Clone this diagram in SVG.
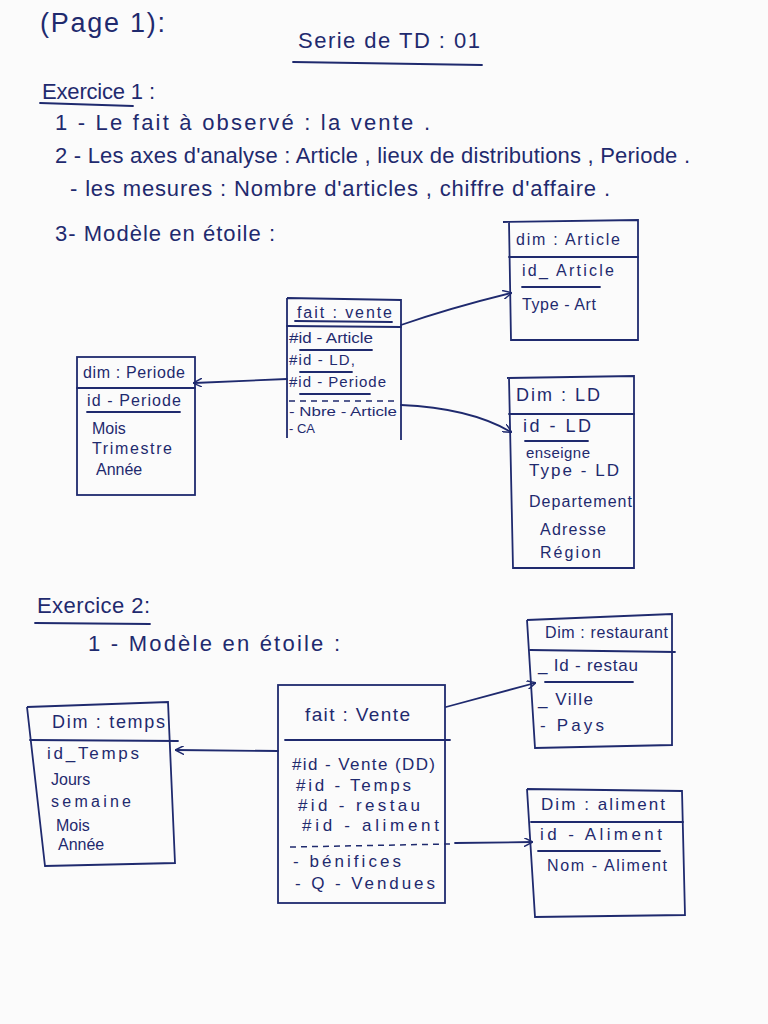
<svg xmlns="http://www.w3.org/2000/svg" width="768" height="1024" viewBox="0 0 768 1024">
<defs>
<style>
.t{font-family:"Liberation Sans","DejaVu Sans",sans-serif;fill:#1f2a6e;}
.h{font-size:22px;}
.b{font-size:16px;}
.s{font-size:15px;}
.ln{stroke:#1f2a6e;stroke-width:1.8;fill:none;stroke-linecap:round;}
.box{stroke:#1f2a6e;stroke-width:1.8;fill:none;}
.dash{stroke:#1f2a6e;stroke-width:1.5;fill:none;stroke-dasharray:6 5;}
</style>
<marker id="ah" viewBox="0 0 10 10" refX="9" refY="5" markerWidth="9" markerHeight="9" orient="auto-start-reverse" markerUnits="userSpaceOnUse">
<path d="M0,0 L10,5 L0,10" fill="none" stroke="#1f2a6e" stroke-width="1.6"/>
</marker>
</defs>
<rect width="768" height="1024" fill="#fbfbfb"/>

<g id="header">
<text class="t" x="40" y="32" font-size="27" textLength="125" lengthAdjust="spacing">(Page 1):</text>
<text class="t" x="298" y="48" font-size="22" textLength="182" lengthAdjust="spacing">Serie de TD : 01</text>
<line class="ln" x1="293" y1="62" x2="482" y2="65"/>
<text class="t h" x="42" y="99" textLength="113" lengthAdjust="spacing">Exercice 1 :</text>
<line class="ln" x1="40" y1="103" x2="133" y2="106"/>
<text class="t h" x="55" y="130" textLength="375" lengthAdjust="spacing">1 - Le fait à observé  :  la vente .</text>
<text class="t h" x="55" y="163" textLength="635" lengthAdjust="spacing">2 - Les axes d'analyse : Article , lieux de distributions , Periode .</text>
<text class="t h" x="70" y="196" textLength="540" lengthAdjust="spacing">- les mesures : Nombre d'articles , chiffre d'affaire .</text>
<text class="t h" x="55" y="241" textLength="220" lengthAdjust="spacing">3- Modèle en étoile  :</text>
<text class="t h" x="37" y="613" textLength="113" lengthAdjust="spacing">Exercice 2:</text>
<line class="ln" x1="35" y1="623" x2="150" y2="624"/>
<text class="t h" x="88" y="651" textLength="252" lengthAdjust="spacing">1 - Modèle en étoile :</text>
</g>

<g id="connectors">
<line class="ln" x1="287" y1="379" x2="194" y2="383" marker-end="url(#ah)"/>
<path class="ln" d="M401,325 Q450,308 511,293" marker-end="url(#ah)"/>
<path class="ln" d="M401,405 Q470,408 511,432" marker-end="url(#ah)"/>
<line class="ln" x1="278" y1="751" x2="176" y2="750" marker-end="url(#ah)"/>
<path class="ln" d="M446,707 Q490,695 535,683" marker-end="url(#ah)"/>
<line class="ln" x1="455" y1="843" x2="532" y2="842" marker-end="url(#ah)"/>
</g>

<g id="fait-vente-1">
<path class="box" d="M287,298 L401,300 L401,440 M287,298 L287,438"/>
<line class="ln" x1="287" y1="326" x2="401" y2="327"/>
<text class="t" x="297" y="318" font-size="16" textLength="95" lengthAdjust="spacing">fait : vente</text>
<line class="ln" x1="295" y1="321" x2="392" y2="322"/>
<text class="t s" x="289" y="343" textLength="84" lengthAdjust="spacingAndGlyphs">#id - Article</text>
<line class="ln" x1="300" y1="350" x2="372" y2="350"/>
<text class="t s" x="289" y="365" textLength="66" lengthAdjust="spacing">#id - LD,</text>
<line class="ln" x1="300" y1="372" x2="352" y2="372"/>
<text class="t s" x="289" y="387" textLength="97" lengthAdjust="spacing">#id - Periode</text>
<line class="ln" x1="300" y1="394" x2="370" y2="394"/>
<line class="dash" x1="289" y1="401" x2="399" y2="401"/>
<text class="t" x="289" y="416" font-size="13" textLength="108" lengthAdjust="spacingAndGlyphs">- Nbre - Article</text>
<text class="t" x="289" y="433" font-size="13">- CA</text>
</g>

<g id="dim-periode">
<rect class="box" x="77" y="357" width="118" height="138"/>
<line class="ln" x1="77" y1="388" x2="195" y2="388"/>
<text class="t b" x="83" y="378" textLength="102" lengthAdjust="spacing">dim : Periode</text>
<text class="t b" x="87" y="406" textLength="94" lengthAdjust="spacing">id - Periode</text>
<line class="ln" x1="87" y1="412" x2="180" y2="412"/>
<text class="t b" x="92" y="434">Mois</text>
<text class="t b" x="92" y="454" textLength="80" lengthAdjust="spacing">Trimestre</text>
<text class="t b" x="96" y="475">Année</text>
</g>

<g id="dim-article">
<path class="box" d="M503,222 L638,220 L638,340 L511,340 L509,222"/>
<line class="ln" x1="509" y1="257" x2="638" y2="257"/>
<text class="t b" x="516" y="245" textLength="104" lengthAdjust="spacing">dim : Article</text>
<text class="t b" x="522" y="276" textLength="92" lengthAdjust="spacing">id_ Article</text>
<line class="ln" x1="522" y1="287" x2="600" y2="287"/>
<text class="t b" x="522" y="310" textLength="74" lengthAdjust="spacing">Type - Art</text>
</g>

<g id="dim-ld">
<path class="box" d="M507,378 L634,376 L634,568 L513,568 L509,378"/>
<line class="ln" x1="509" y1="414" x2="634" y2="414"/>
<text class="t" x="516" y="401" font-size="18" textLength="84" lengthAdjust="spacing">Dim : LD</text>
<text class="t" x="523" y="432" font-size="18" textLength="68" lengthAdjust="spacing">id - LD</text>
<line class="ln" x1="525" y1="441" x2="588" y2="441"/>
<text class="t s" x="526" y="458" textLength="64" lengthAdjust="spacing">enseigne</text>
<text class="t" x="529" y="476" font-size="17" textLength="90" lengthAdjust="spacing">Type - LD</text>
<text class="t b" x="529" y="507" textLength="103" lengthAdjust="spacing">Departement</text>
<text class="t b" x="540" y="535" textLength="66" lengthAdjust="spacing">Adresse</text>
<text class="t b" x="540" y="558" textLength="61" lengthAdjust="spacing">Région</text>
</g>

<g id="dim-temps">
<path class="box" d="M27,707 L168,702 L175,863 L45,866 L27,707"/>
<line class="ln" x1="30" y1="740" x2="178" y2="741"/>
<text class="t" x="52" y="728" font-size="18" textLength="113" lengthAdjust="spacing">Dim : temps</text>
<text class="t" x="47" y="759" font-size="17" textLength="92" lengthAdjust="spacing">id_Temps</text>
<text class="t b" x="51" y="785">Jours</text>
<text class="t b" x="51" y="807" textLength="80" lengthAdjust="spacing">semaine</text>
<text class="t b" x="56" y="831">Mois</text>
<text class="t b" x="58" y="850">Année</text>
</g>

<g id="fait-vente-2">
<rect class="box" x="278" y="685" width="167" height="218"/>
<line class="ln" x1="285" y1="740" x2="450" y2="740"/>
<text class="t" x="305" y="721" font-size="19" textLength="105" lengthAdjust="spacing">fait : Vente</text>
<text class="t" x="292" y="770" font-size="17" textLength="143" lengthAdjust="spacing">#id - Vente (DD)</text>
<text class="t" x="296" y="791" font-size="17" textLength="115" lengthAdjust="spacing">#id - Temps</text>
<text class="t" x="298" y="811" font-size="17" textLength="122" lengthAdjust="spacing">#id - restau</text>
<text class="t" x="302" y="831" font-size="17" textLength="137" lengthAdjust="spacing">#id - aliment</text>
<line class="dash" x1="290" y1="847" x2="450" y2="844"/>
<text class="t" x="293" y="867" font-size="17" textLength="108" lengthAdjust="spacing">- bénifices</text>
<text class="t" x="295" y="889" font-size="17" textLength="140" lengthAdjust="spacing">- Q - Vendues</text>
</g>

<g id="dim-restaurant">
<path class="box" d="M527,620 L672,614 L672,745 L535,748 L527,620"/>
<line class="ln" x1="530" y1="650" x2="675" y2="652"/>
<text class="t b" x="545" y="638" textLength="123" lengthAdjust="spacing">Dim : restaurant</text>
<text class="t" x="538" y="671" font-size="17" textLength="100" lengthAdjust="spacing">_ Id - restau</text>
<line class="ln" x1="545" y1="682" x2="633" y2="682"/>
<text class="t" x="538" y="705" font-size="17" textLength="55" lengthAdjust="spacing">_ Ville</text>
<text class="t" x="540" y="731" font-size="17" textLength="64" lengthAdjust="spacing">- Pays</text>
</g>

<g id="dim-aliment">
<path class="box" d="M527,789 L682,791 L685,915 L535,917 L527,789"/>
<line class="ln" x1="531" y1="822" x2="683" y2="822"/>
<text class="t" x="541" y="810" font-size="17" textLength="124" lengthAdjust="spacing">Dim : aliment</text>
<text class="t" x="540" y="840" font-size="17" textLength="122" lengthAdjust="spacing">id - Aliment</text>
<line class="ln" x1="538" y1="851" x2="660" y2="851"/>
<text class="t b" x="547" y="871" textLength="120" lengthAdjust="spacing">Nom - Aliment</text>
</g>
</svg>
